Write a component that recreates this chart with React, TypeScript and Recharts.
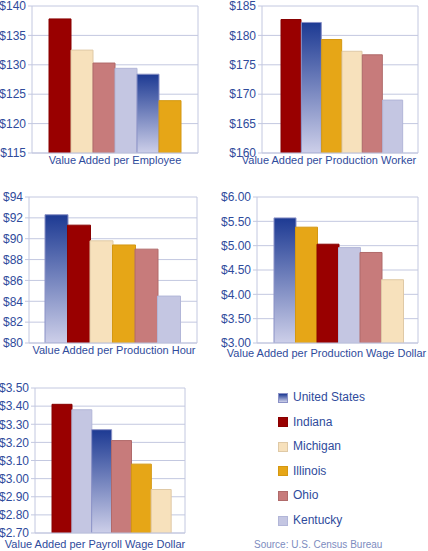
import React from 'react';
import { BarChart, Bar, XAxis, YAxis, CartesianGrid, Cell } from 'recharts';

const states = ['United States', 'Indiana', 'Michigan', 'Illinois', 'Ohio', 'Kentucky'];

// values in the order of `states`
const perEmployee = [128.4, 137.8, 132.5, 123.9, 130.3, 129.4];
const perProductionWorker = [182.2, 182.7, 177.3, 179.3, 176.7, 169.0];
const perProductionHour = [92.3, 91.3, 89.8, 89.4, 89.0, 84.5];
const perProductionWageDollar = [5.57, 5.03, 4.3, 5.38, 4.86, 4.96];
const perPayrollWageDollar = [3.27, 3.41, 2.94, 3.08, 3.21, 3.38];

const ticksEmployee = [115, 120, 125, 130, 135, 140];
const ticksWorker = [160, 165, 170, 175, 180, 185];
const ticksHour = [80, 82, 84, 86, 88, 90, 92, 94];
const ticksWage = [3.0, 3.5, 4.0, 4.5, 5.0, 5.5, 6.0];
const ticksPayroll = [2.7, 2.8, 2.9, 3.0, 3.1, 3.2, 3.3, 3.4, 3.5];

const titles = [
  'Value Added per Employee',
  'Value Added per Production Worker',
  'Value Added per Production Hour',
  'Value Added per Production Wage Dollar',
  'Value Added per Payroll Wage Dollar',
];

const solidFills: Record<string, string> = {
  Indiana: '#990000',
  Michigan: '#f7e1bc',
  Illinois: '#e6a617',
  Ohio: '#c77b7b',
  Kentucky: '#c4c6e2',
};
const strokes: Record<string, string> = {
  'United States': '#8a91c6',
  Indiana: '#880000',
  Michigan: '#dfc9a6',
  Illinois: '#d49812',
  Ohio: '#b06a6a',
  Kentucky: '#b2b6d8',
};

const TEXT = '#2f4b9c';
const GRID = '#c3c8e0';
const FONT = '"Liberation Sans", Arial, sans-serif';

type Cfg = {
  id: string;
  values: number[];
  title: string;
  ticks: number[];
  fmt: (v: number) => string;
  left: number;
  top: number;
  width: number;
  height: number;
  margin: { top: number; right: number; bottom: number; left: number };
  yWidth: number;
  xHeight: number;
  padding: { left: number; right: number };
  dx: number;
};

function MiniChart(c: Cfg) {
  const data = states
    .map((s, i) => ({ state: s, value: c.values[i] }))
    .sort((a, b) => b.value - a.value);
  const gid = `usGrad-${c.id}`;
  return (
    <div style={{ position: 'absolute', left: c.left, top: c.top }}>
      <BarChart width={c.width} height={c.height} data={data} margin={c.margin} barCategoryGap={0} barGap={0}>
        <defs>
          <linearGradient id={gid} x1="0" y1="0" x2="0" y2="1">
            <stop offset="0%" stopColor="#1d3a93" />
            <stop offset="100%" stopColor="#cdcfe9" />
          </linearGradient>
        </defs>
        <CartesianGrid
          stroke={GRID}
          horizontal={true}
          vertical={true}
          verticalCoordinatesGenerator={({ offset }: any) => [offset.left + offset.width]}
        />
        <XAxis
          dataKey="state"
          tick={false}
          tickLine={false}
          axisLine={{ stroke: GRID }}
          height={c.xHeight}
          padding={c.padding}
          label={{ value: c.title, position: 'insideBottom', offset: 0, dx: c.dx, fill: TEXT, fontSize: 11 }}
        />
        <YAxis
          domain={[c.ticks[0], c.ticks[c.ticks.length - 1]]}
          ticks={c.ticks}
          interval={0}
          width={c.yWidth}
          tickSize={4}
          tickMargin={2}
          axisLine={{ stroke: GRID }}
          tickLine={{ stroke: GRID }}
          tick={{ fill: TEXT, fontSize: 12 }}
          tickFormatter={c.fmt}
          allowDataOverflow
        />
        <Bar dataKey="value" isAnimationActive={false}>
          {data.map((d) => (
            <Cell
              key={d.state}
              fill={d.state === 'United States' ? `url(#${gid})` : solidFills[d.state]}
              stroke={strokes[d.state]}
              strokeWidth={1}
            />
          ))}
        </Bar>
      </BarChart>
    </div>
  );
}

const whole = (v: number) => `$${v}`;
const cents = (v: number) => `$${v.toFixed(2)}`;

const legendSquare: Record<string, string> = {
  'United States': 'linear-gradient(#1d3a93, #cdcfe9)',
  Indiana: '#990000',
  Michigan: '#f7e1bc',
  Illinois: '#e6a617',
  Ohio: '#c77b7b',
  Kentucky: '#c4c6e2',
};

export default function App() {
  return (
    <div style={{ position: 'absolute', left: 0, top: 0, width: 428, height: 551, background: '#fff', fontFamily: FONT, overflow: 'hidden' }}>
      <MiniChart
        id="a" values={perEmployee} title={titles[0]} ticks={ticksEmployee} fmt={whole}
        left={0} top={0} width={214} height={170}
        margin={{ top: 6, right: 16, bottom: 6, left: 0 }} yWidth={32} xHeight={11}
        padding={{ left: 17, right: 17 }} dx={0}
      />
      <MiniChart
        id="b" values={perProductionWorker} title={titles[1]} ticks={ticksWorker} fmt={whole}
        left={214} top={0} width={214} height={170}
        margin={{ top: 6, right: 10, bottom: 6, left: 0 }} yWidth={48} xHeight={11}
        padding={{ left: 19, right: 15 }} dx={-11}
      />
      <MiniChart
        id="c" values={perProductionHour} title={titles[2]} ticks={ticksHour} fmt={whole}
        left={0} top={180} width={214} height={180}
        margin={{ top: 17, right: 17, bottom: 6, left: 0 }} yWidth={29} xHeight={11}
        padding={{ left: 16, right: 17 }} dx={1}
      />
      <MiniChart
        id="d" values={perProductionWageDollar} title={titles[3]} ticks={ticksWage} fmt={cents}
        left={214} top={180} width={214} height={183}
        margin={{ top: 17, right: 10, bottom: 6, left: 0 }} yWidth={43} xHeight={14}
        padding={{ left: 17, right: 15 }} dx={-11}
      />
      <MiniChart
        id="e" values={perPayrollWageDollar} title={titles[4]} ticks={ticksPayroll} fmt={cents}
        left={0} top={370} width={214} height={181}
        margin={{ top: 18, right: 29, bottom: 3, left: 0 }} yWidth={35} xHeight={15}
        padding={{ left: 17, right: 14 }} dx={-15}
      />
      {states.map((s, i) => (
        <div key={s} style={{ position: 'absolute', left: 278, top: 392 + i * 24.6, height: 11, display: 'flex', alignItems: 'center' }}>
          <div style={{ width: 10, height: 10, background: legendSquare[s], border: `1px solid ${strokes[s]}`, boxSizing: 'border-box' }} />
          <span style={{ marginLeft: 5, fontSize: 12, color: TEXT, lineHeight: '11px' }}>{s}</span>
        </div>
      ))}
      <div style={{ position: 'absolute', left: 254, top: 539, fontSize: 10, color: '#7d8cc0', lineHeight: '11px' }}>
        Source: U.S. Census Bureau
      </div>
    </div>
  );
}
